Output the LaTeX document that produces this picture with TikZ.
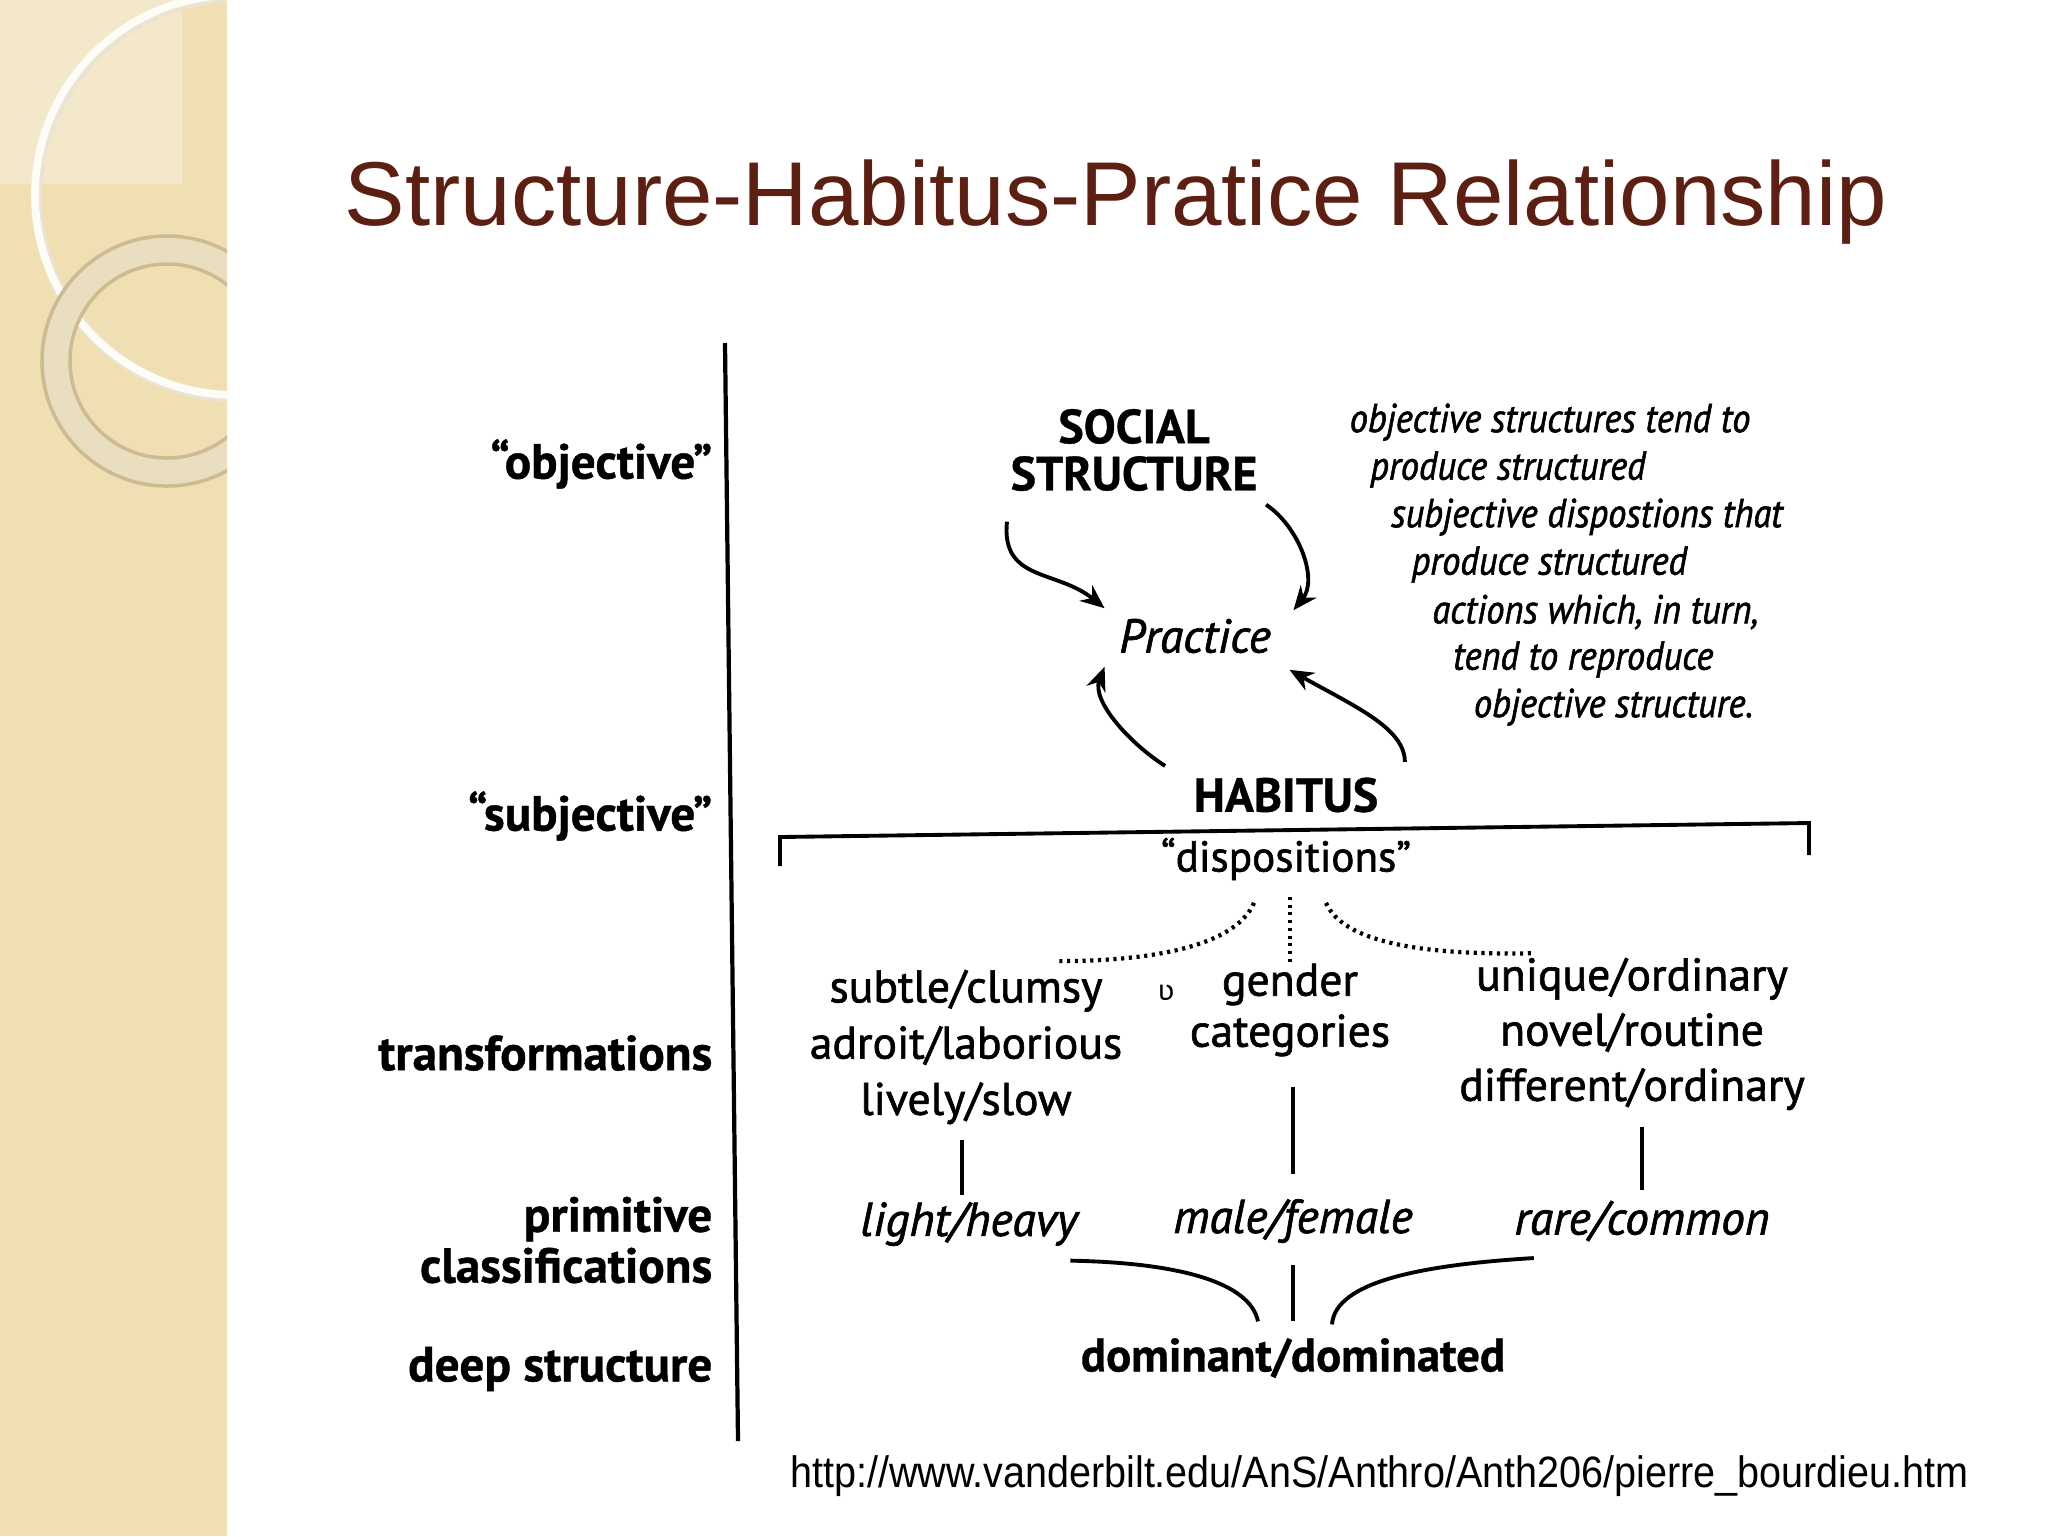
\documentclass[tikz,border=0pt]{standalone}
\usepackage{fontspec}
\setmainfont{PT Sans}[UprightFeatures={FakeBold=1.4}, ItalicFeatures={FakeBold=1.4}, BoldFeatures={FakeBold=0.8}]
\newfontfamily\slidefont{Liberation Sans}
\newfontfamily\urlfont[FakeStretch=0.9]{Liberation Sans}
\newfontfamily\notefont[FakeStretch=0.9,FakeBold=1.4]{PT Sans}
\newfontfamily\ipafont{DejaVu Sans}
\usetikzlibrary{arrows.meta}
\definecolor{titlered}{HTML}{5C1F12}
\definecolor{sidebar}{HTML}{F0DFB2}
\definecolor{sidelight}{HTML}{F4E8CA}
\definecolor{ringcol}{HTML}{E9DEC0}
\definecolor{ringedge}{HTML}{CDBB92}
\begin{document}
\begin{tikzpicture}[x=0.1mm,y=-0.1mm,
    rowlabel/.style={font=\fontsize{14}{14.5}\selectfont\bfseries, anchor=east, align=right, inner sep=0pt},
    word/.style={font=\fontsize{13}{16}\selectfont, align=center, inner sep=0pt},
    ital/.style={font=\fontsize{13.5}{15}\selectfont\itshape, inner sep=0pt},
    boldtxt/.style={font=\fontsize{13.6}{13.4}\selectfont\bfseries, align=center, inner sep=0pt},
    note/.style={font=\notefont\fontsize{11.5}{13}\selectfont\itshape, anchor=west, inner sep=0pt},
    link/.style={line width=1.1pt},
    flow/.style={line width=1.1pt, -{Stealth[length=2.4mm,width=2mm]}},
    dotline/.style={line width=1.2pt, dash pattern=on 0.9pt off 1.3pt}]
    \useasboundingbox (0,0) rectangle (2048,1536);
    \fill[white] (0,0) rectangle (2048,1536);
    % sidebar
    \fill[sidebar] (0,0) rectangle (227,1536);
    \begin{scope}
        \clip (0,0) rectangle (227,1536);
        \fill[sidelight] (0,0) rectangle (182,184);
        \draw[ringedge!40!white, line width=3pt] (237,197) circle (200);
        \draw[white!90!sidebar, line width=2.2pt] (235,195) circle (200);
        \fill[ringcol, even odd rule] (167,361) circle (125) (167,361) circle (97);
        \draw[ringedge, line width=1pt] (167,361) circle (125) (167,361) circle (97);
    \end{scope}
    % title
    \node[font=\slidefont\fontsize{25.8}{30}\selectfont, text=titlered, anchor=base] (title) at (1116,225) {Structure-Habitus-Pratice Relationship};
    % axis
    \coordinate (axtop) at (725,343);
    \coordinate (axbot) at (738,1441);
    \draw[line width=1.2pt] (axtop) -- (axbot);
    \node[rowlabel] (obj) at (713,464) {“objective”};
    \node[rowlabel] (subj) at (713,816) {“subjective”};
    \node[rowlabel] (trans) at (713,1053) {transformations};
    \node[rowlabel] (prim) at (713,1240) {primitive\\classifications};
    \node[rowlabel] (deep) at (713,1369) {deep structure};
    % upper part
    \node[boldtxt] (social) at (1134,450) {SOCIAL\\STRUCTURE};
    \node[ital] (prac) at (1195,636) {Practice};
    \node[boldtxt] (habitus) at (1286,795) {HABITUS};
    \foreach \txt [count=\i from 0] in {objective structures tend to, produce structured, subjective dispostions that, produce structured, {actions which, in turn,}, tend to reproduce, objective structure.}
        \node[note] (note\i) at (1349+20.7*\i, 422+47.5*\i) {\txt};
    \draw[flow] ([shift={(-3,30)}]social.south west) .. controls +(-6,60) and +(-48,-39) .. ([shift={(-14,-10)}]prac.north west);
    \draw[flow] ([shift={(8,13)}]social.south east) .. controls +(33,22) and +(25,-31) .. ([shift={(22,-8)}]prac.north east);
    \draw[flow] ([shift={(-28,-11)}]habitus.north west) .. controls +(-36,-23) and +(-13,34) .. ([shift={(-14,13)}]prac.south west);
    \draw[flow] ([shift={(26,-15)}]habitus.north east) .. controls +(0,-34) and +(64,36) .. ([shift={(18,16)}]prac.south east);
    % bracket
    \draw[link] (780,866) -- (780,837) -- (1809,823) -- (1809,855);
    \node[word, font=\fontsize{12.3}{14}\selectfont] (disp) at (1286,859) {“dispositions”};
    % lower part
    \node[word] (lcol) at (966,1047) {subtle/clumsy\\adroit/laborious\\lively/slow};
    \node[word, font=\fontsize{13}{14.5}\selectfont] (ccol) at (1290,1010) {gender\\categories};
    \node[word, font=\fontsize{13}{15.7}\selectfont] (rcol) at (1632,1034) {unique/ordinary\\novel/routine\\different/ordinary};
    \node[font=\ipafont\fontsize{8}{8}\selectfont, inner sep=0pt] (mark) at (1166,993) {ʋ};
    \node[ital] (light) at (969,1224) {light/heavy};
    \node[ital] (male) at (1293,1221) {male/female};
    \node[ital] (rare) at (1642,1221) {rare/common};
    \node[boldtxt, font=\fontsize{13.3}{14}\selectfont\bfseries] (dom) at (1293,1358) {dominant/dominated};
    \draw[dotline] ([shift={(-32,22)}]disp.south) .. controls +(-19,44) and +(92,0) .. ([shift={(92,-8)}]lcol.north);
    \draw[dotline] ([shift={(4,16)}]disp.south) -- (ccol.north);
    \draw[dotline] ([shift={(40,22)}]disp.south) .. controls +(19,44) and +(-95,2) .. ([shift={(-97,-4)}]rcol.north);
    \draw[link] ([shift={(-4,15)}]lcol.south) -- ([shift={(-7,-6)}]light.north);
    \draw[link] ([shift={(3,30)}]ccol.south) -- ([shift={(0,-25)}]male.north);
    \draw[link] ([shift={(10,16)}]rcol.south) -- ([shift={(0,-10)}]rare.north);
    \draw[link] ([shift={(-8,14)}]light.south east) .. controls +(109,2) and +(-8,-39) .. ([shift={(-35,-16)}]dom.north);
    \draw[link] ([shift={(0,21)}]male.south) -- ([shift={(0,-16)}]dom.north);
    \draw[link] ([shift={(20,16)}]rare.south west) .. controls +(-115,7) and +(3,-42) .. ([shift={(39,-13)}]dom.north);
    % source
    \node[font=\urlfont\fontsize{12.5}{14}\selectfont, anchor=east, inner sep=0pt] (url) at (1969,1476) {http://www.vanderbilt.edu/AnS/Anthro/Anth206/pierre\_bourdieu.htm};
\end{tikzpicture}
\end{document}
